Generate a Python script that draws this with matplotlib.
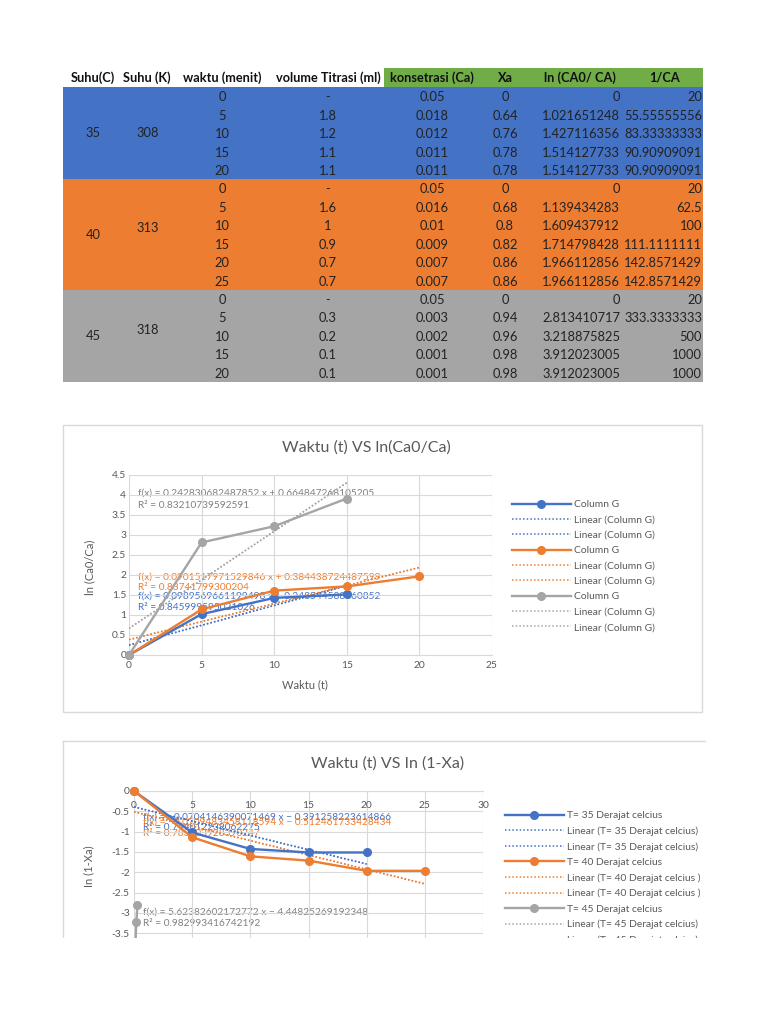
import numpy as np
import matplotlib
matplotlib.use('Agg')
import matplotlib.pyplot as plt
from matplotlib.patches import Rectangle

plt.rcParams['font.family'] = ['Lato', 'DejaVu Sans']

# ---------------- data ----------------
headers = ['Suhu(C)', 'Suhu (K)', 'waktu (menit)', 'volume Titrasi (ml)',
           'konsetrasi (Ca)', 'Xa', 'ln (CA0/ CA)', '1/CA']
suhu_c = [35, 40, 45]
suhu_k = [308, 313, 318]
waktu = [[0, 5, 10, 15, 20], [0, 5, 10, 15, 20, 25], [0, 5, 10, 15, 20]]
volume = [['-', '1.8', '1.2', '1.1', '1.1'],
          ['-', '1.6', '1', '0.9', '0.7', '0.7'],
          ['-', '0.3', '0.2', '0.1', '0.1']]
konsentrasi = [[0.05, 0.018, 0.012, 0.011, 0.011],
               [0.05, 0.016, 0.01, 0.009, 0.007, 0.007],
               [0.05, 0.003, 0.002, 0.001, 0.001]]
xa = [[0, 0.64, 0.76, 0.78, 0.78],
      [0, 0.68, 0.8, 0.82, 0.86, 0.86],
      [0, 0.94, 0.96, 0.98, 0.98]]
ln_ca0_ca = [[0, 1.021651248, 1.427116356, 1.514127733, 1.514127733],
             [0, 1.139434283, 1.609437912, 1.714798428, 1.966112856, 1.966112856],
             [0, 2.813410717, 3.218875825, 3.912023005, 3.912023005]]
inv_ca = [[20, 55.55555556, 83.33333333, 90.90909091, 90.90909091],
          [20, 62.5, 100, 111.1111111, 142.8571429, 142.8571429],
          [20, 333.3333333, 500, 1000, 1000]]

# chart 1 series (waktu vs ln(Ca0/Ca))
c1_x = [[0, 5, 10, 15], [0, 5, 10, 15, 20], [0, 5, 10, 15]]
c1_y = [[0, 1.021651248, 1.427116356, 1.514127733],
        [0, 1.139434283, 1.609437912, 1.714798428, 1.966112856],
        [0, 2.813410717, 3.218875825, 3.912023005]]
c1_eq = ['f(x) = 0.0989569661199498 x + 0.248544588660852',
         'f(x) = 0.0901517971529846 x + 0.384438724487599',
         'f(x) = 0.242830682487852 x + 0.664847268105205']
c1_r2 = ['R² = 0.845999595021026', 'R² = 0.83741799300204', 'R² = 0.83210739592591']
c1_labels = ['Column G', 'Linear (Column G)', 'Linear (Column G)'] * 3

# chart 2 series (waktu vs ln(1-Xa))
c2_x = [[0, 5, 10, 15, 20], [0, 5, 10, 15, 20, 25], [0.3, 0.2, 0.1, 0.1]]
c2_y = [[0, -1.021651248, -1.427116356, -1.514127733, -1.514127733],
        [0, -1.139434283, -1.609437912, -1.714798428, -1.966112856, -1.966112856],
        [-2.813410717, -3.218875825, -3.912023005, -3.912023005]]
c2_eq = ['f(x) = −0.0704146390071469 x − 0.391258223614866',
         'f(x) = −0.0709483458118594 x − 0.512461733428434',
         'f(x) = 5.62382602172772 x − 4.44825269192348']
c2_labels = ['T= 35 Derajat celcius', 'Linear (T= 35 Derajat celcius)', 'Linear (T= 35 Derajat celcius)',
             'T= 40 Derajat celcius', 'Linear (T= 40 Derajat celcius )', 'Linear (T= 40 Derajat celcius )',
             'T= 45 Derajat celcius', 'Linear (T= 45 Derajat celcius)', 'Linear (T= 45 Derajat celcius)']

# ---------------- style ----------------
BLUE = '#4472C4'; ORANGE = '#ED7D31'; GRAY = '#A5A5A5'; GREEN = '#70AD47'
TXT = '#595959'; GRIDC = '#D9D9D9'; TGRAY = '#808080'
COLS = [BLUE, ORANGE, GRAY]
DOT = (0, (1, 1.4))

W, H = 768, 1024
fig = plt.figure(figsize=(W / 100, H / 100), dpi=100)
fig.patch.set_facecolor('white')


def axes_px(l, t, r, b, **kw):
    return fig.add_axes([l / W, 1 - b / H, (r - l) / W, (b - t) / H], **kw)


# ---------------- table ----------------
tab = fig.add_axes([0, 0, 1, 1])
tab.set_xlim(0, W); tab.set_ylim(H, 0); tab.axis('off')

TL, TR = 63, 703
hdr_top, hdr_bot = 68, 87
row_h = 18.44
tab.add_patch(Rectangle((384, hdr_top), TR - 384, hdr_bot - hdr_top, color=GREEN, lw=0))
hdr_x = [93, 147, 222, 328, 432, 505, 580, 665]
for hx, h in zip(hdr_x, headers):
    tab.text(hx, (hdr_top + hdr_bot) / 2 + 0.5, h, ha='center', va='center',
             fontsize=9.2, fontweight='bold', color='#111111')

FS = 9.3
TC = '#222222'
row = 0
k_off = [0, -7, -6]
for b in range(3):
    n = len(waktu[b])
    y0 = hdr_bot + row * row_h
    tab.add_patch(Rectangle((TL, y0), TR - TL, n * row_h, color=COLS[b], lw=0))
    mid = y0 + n * row_h / 2
    tab.text(93, mid, str(suhu_c[b]), ha='center', va='center', fontsize=FS, color=TC)
    tab.text(148, mid + k_off[b], str(suhu_k[b]), ha='center', va='center', fontsize=FS, color=TC)
    for i in range(n):
        yc = y0 + (i + 0.5) * row_h + 1
        tab.text(222, yc, str(waktu[b][i]), ha='center', va='center', fontsize=FS, color=TC)
        tab.text(328, yc, volume[b][i], ha='center', va='center', fontsize=FS, color=TC)
        tab.text(432, yc, f'{konsentrasi[b][i]:.10g}', ha='center', va='center', fontsize=FS, color=TC)
        tab.text(505, yc, f'{xa[b][i]:.10g}', ha='center', va='center', fontsize=FS, color=TC)
        tab.text(620, yc, f'{ln_ca0_ca[b][i]:.10g}', ha='right', va='center', fontsize=FS, color=TC)
        tab.text(702, yc, f'{inv_ca[b][i]:.10g}', ha='right', va='center', fontsize=FS, color=TC)
    row += n

# chart frames
tab.add_patch(Rectangle((63, 425), 639, 287, facecolor='white', edgecolor=GRIDC, lw=1))
tab.plot([63, 705], [741, 741], color=GRIDC, lw=1)
tab.plot([63, 63], [741, 1024], color=GRIDC, lw=1)


def style_axes(ax):
    ax.set_facecolor('none')
    for s in ax.spines.values():
        s.set_visible(False)
    ax.grid(True, color=GRIDC, lw=0.8)
    ax.set_axisbelow(True)
    ax.tick_params(length=0, labelsize=7.4, labelcolor=TXT)


def fmt(v):
    return f'{v:g}'


def r2_text(x, y):
    x = np.asarray(x, float); y = np.asarray(y, float)
    p = np.polyfit(x, y, 1)
    yh = np.polyval(p, x)
    r2 = 1 - np.sum((y - yh) ** 2) / np.sum((y - y.mean()) ** 2)
    return f'R² = {r2:.15g}'


# ---------------- chart 1 ----------------
ax1 = axes_px(129, 475, 492, 655)
style_axes(ax1)
ax1.set_xlim(0, 25); ax1.set_ylim(0, 4.5)
xt = np.arange(0, 26, 5); yt = np.arange(0, 4.51, 0.5)
ax1.set_xticks(xt); ax1.set_xticklabels([fmt(v) for v in xt])
ax1.set_yticks(yt); ax1.set_yticklabels([fmt(v) for v in yt])
ax1.tick_params(axis='y', pad=2); ax1.tick_params(axis='x', pad=4)
ax1.spines['bottom'].set_visible(True); ax1.spines['bottom'].set_color(GRIDC)

handles1 = []
for i in range(3):
    x = np.array(c1_x[i], float); y = np.array(c1_y[i], float)
    ln, = ax1.plot(x, y, color=COLS[i], lw=1.7, marker='o', ms=5.5, clip_on=False, zorder=3)
    p = np.polyfit(x, y, 1)
    xx = np.array([x.min(), x.max()])
    t1, = ax1.plot(xx, np.polyval(p, xx), color=COLS[i], lw=1.1, ls=DOT, zorder=2)
    t2, = ax1.plot(xx, np.polyval(p, xx), color=COLS[i], lw=1.1, ls=DOT, zorder=2)
    handles1 += [ln, t1, t2]

lab1_y = [(596, 607), (577, 588), (493, 505)]
for i in range(3):
    col = TGRAY if i == 2 else COLS[i]
    ya, yb = lab1_y[i]
    tab.text(138, ya, c1_eq[i], fontsize=7.3, color=col, va='center', ha='left', zorder=5)
    tab.text(138, yb, c1_r2[i], fontsize=7.3, color=col, va='center', ha='left', zorder=5)

fig.text(366 / W, 1 - 448 / H, 'Waktu (t) VS ln(Ca0/Ca)', ha='center', va='center',
         fontsize=11.5, color=TXT)
fig.text(305 / W, 1 - 685 / H, 'Waktu (t)', ha='center', va='center', fontsize=8, color=TXT)
fig.text(90 / W, 1 - 567 / H, 'ln (Ca0/Ca)', ha='center', va='center', fontsize=8,
         color=TXT, rotation=90)

ax1.legend(handles1, c1_labels, loc='upper left', bbox_to_anchor=(512 / W, 1 - 500 / H),
           bbox_transform=fig.transFigure, frameon=False, fontsize=7.4, labelcolor=TXT,
           handlelength=5.7, handletextpad=0.35, labelspacing=0.6, borderpad=0,
           borderaxespad=0)

# ---------------- chart 2 ----------------
PXU = 40.6
ax2 = axes_px(134, 791, 483, 791 + 4.5 * PXU)
style_axes(ax2)
ax2.set_xlim(0, 30); ax2.set_ylim(-4.5, 0)
xt2 = np.arange(0, 31, 5); yt2 = np.arange(0, -4.51, -0.5)
ax2.set_xticks(xt2); ax2.set_xticklabels([fmt(v) for v in xt2])
ax2.set_yticks(yt2); ax2.set_yticklabels([fmt(v) for v in yt2])
ax2.xaxis.tick_top()
ax2.tick_params(axis='x', pad=-14); ax2.tick_params(axis='y', pad=3)
ax2.spines['top'].set_visible(True); ax2.spines['top'].set_color(GRIDC)

handles2 = []
for i in range(3):
    x = np.array(c2_x[i], float); y = np.array(c2_y[i], float)
    ln, = ax2.plot(x, y, color=COLS[i], lw=1.7, marker='o', ms=5.5, clip_on=False, zorder=3)
    p = np.polyfit(x, y, 1)
    xx = np.array([x.min(), x.max()])
    t1, = ax2.plot(xx, np.polyval(p, xx), color=COLS[i], lw=1.1, ls=DOT, zorder=2)
    t2, = ax2.plot(xx, np.polyval(p, xx), color=COLS[i], lw=1.1, ls=DOT, zorder=2)
    handles2 += [ln, t1, t2]

c2_r2 = [r2_text(c2_x[0], c2_y[0]), r2_text(c2_x[1], c2_y[1]), 'R² = 0.982993416742192']
lab2_y = [(817, 828), (822, 834), (912, 924)]
for i in range(3):
    col = TGRAY if i == 2 else COLS[i]
    ya, yb = lab2_y[i]
    tab.text(143, ya, c2_eq[i], fontsize=7.3, color=col, va='center', ha='left', zorder=5)
    tab.text(143, yb, c2_r2[i], fontsize=7.3, color=col, va='center', ha='left', zorder=5)

fig.text(388 / W, 1 - 764 / H, 'Waktu (t) VS In (1-Xa)', ha='center', va='center',
         fontsize=11.5, color=TXT)
fig.text(89 / W, 1 - 866 / H, 'In (1-Xa)', ha='center', va='center', fontsize=8,
         color=TXT, rotation=90)

ax2.legend(handles2, c2_labels, loc='upper left', bbox_to_anchor=(505 / W, 1 - 811 / H),
           bbox_transform=fig.transFigure, frameon=False, fontsize=7.4, labelcolor=TXT,
           handlelength=5.7, handletextpad=0.35, labelspacing=0.6, borderpad=0,
           borderaxespad=0)

# page crop below the second chart
fig.add_artist(Rectangle((0, 0), 1, 1 - 938 / H, transform=fig.transFigure,
                         facecolor='white', edgecolor='none', zorder=100))

fig.savefig('out.png', dpi=100, facecolor='white')
